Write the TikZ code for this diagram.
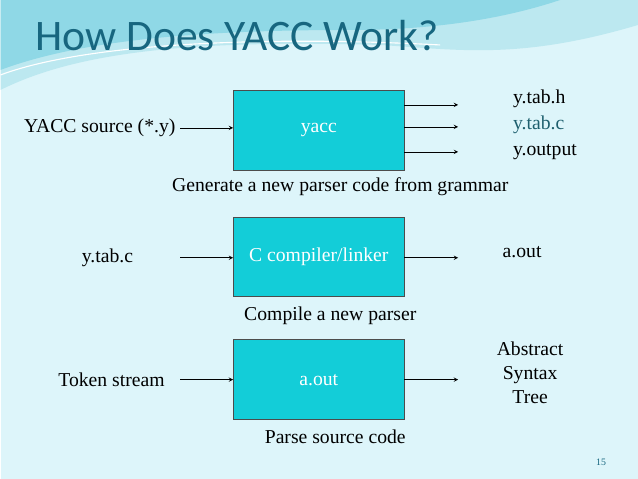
\documentclass[tikz,border=0pt]{standalone}
\usepackage{fontspec}
\setmainfont{Liberation Serif}
\newfontfamily\titlefont{Carlito}
\usetikzlibrary{positioning}
\definecolor{bgcyan}{HTML}{DDF5FA}
\definecolor{wavecyan}{HTML}{8FD8E6}
\definecolor{boxcyan}{HTML}{13CDD8}
\definecolor{titleteal}{HTML}{17667F}
\definecolor{tabteal}{HTML}{1E5F6E}
\tikzset{
  stage/.style={draw=black!70, fill=boxcyan, minimum width=4.27cm, minimum height=2cm, text=white, font=\fontsize{14}{16}\selectfont},
  lbl/.style={font=\fontsize{14}{17}\selectfont},
  flow/.style={->, >=stealth, thin}
}
\begin{document}
\begin{tikzpicture}[x=0.025cm,y=-0.025cm]
    \fill[bgcyan] (0,0) rectangle (638,479);
    % top wave
    \fill[wavecyan!60] (0,0) -- (638,0) -- (638,25) .. controls (520,60) and (460,50) .. (380,45) .. controls (200,40) and (80,50) .. (0,90) -- cycle;
    \fill[wavecyan] (0,0) -- (560,0) .. controls (500,20) and (430,30) .. (350,30) .. controls (200,30) and (80,40) .. (0,70) -- cycle;
    \draw[white, thick] (0,75) .. controls (80,45) and (250,35) .. (440,45);
    \node[anchor=west, text=titleteal, font=\titlefont\fontsize{31}{34}\selectfont] (title) at (30,36) {How Does YACC Work?};

    \node[stage] (yacc) at (318.5,130) {yacc};
    \node[stage] (cc) at (318.5,257) {C compiler/linker};
    \node[stage] (aout) at (318.5,380) {a.out};

    \node[lbl, anchor=east] (src) at (180,128) {YACC source (*.y)};
    \node[lbl, anchor=west] (tabh) at (508,99) {y.tab.h};
    \node[lbl, anchor=west, text=tabteal] (tabc) at (508,125) {y.tab.c};
    \node[lbl, anchor=west] (yout) at (508,152) {y.output};
    \coordinate (o1) at (458,105);
    \coordinate (o2) at (458,127);
    \coordinate (o3) at (458,152);
    \node[lbl] (cap1) at (340,187) {Generate a new parser code from grammar};
    \draw[flow] (src) -- (yacc.west |- src);
    \draw[flow] (yacc.east |- o1) -- (o1);
    \draw[flow] (yacc.east |- o2) -- (o2);
    \draw[flow] (yacc.east |- o3) -- (o3);

    \node[lbl] (ytabc) at (107,258) {y.tab.c};
    \coordinate (i2) at (180,258);
    \coordinate (o4) at (458,258);
    \node[lbl] (aoutfile) at (522,252) {a.out};
    \node[lbl] (cap2) at (330,316) {Compile a new parser};
    \draw[flow] (i2) -- (cc.west |- i2);
    \draw[flow] (cc.east |- o4) -- (o4);

    \node[lbl] (tokens) at (111,380) {Token stream};
    \coordinate (i3) at (180,380);
    \coordinate (o5) at (458,380);
    \node[lbl, align=center] (ast) at (530,373) {Abstract\\Syntax\\Tree};
    \node[lbl] (cap3) at (335,437) {Parse source code};
    \draw[flow] (i3) -- (aout.west |- i3);
    \draw[flow] (aout.east |- o5) -- (o5);

    \node[font=\fontsize{7}{8}\selectfont, text=titleteal] (page) at (601,463) {15};
\end{tikzpicture}
\end{document}
